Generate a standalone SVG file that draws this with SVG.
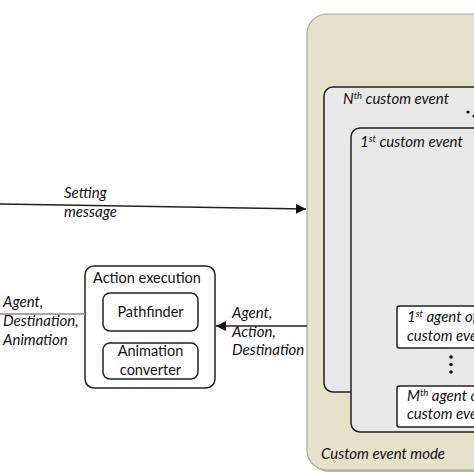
<svg xmlns="http://www.w3.org/2000/svg" width="474" height="474" viewBox="0 0 474 474">
<defs>
<marker id="ah" viewBox="0 0 10 10" refX="10" refY="5" markerWidth="10" markerHeight="10" markerUnits="userSpaceOnUse" orient="auto">
<path d="M0,0 L10,5 L0,10 z" fill="#111"/>
</marker>
<style>
text{font-family:Lato,"Liberation Sans",sans-serif;font-size:14.5px;fill:#111}
.i{font-style:italic;font-size:15px}
.sup{font-size:9.5px}
.box{fill:#fff;stroke:#222;stroke-width:1.5}
.ev{fill:#e8e8e8;stroke:#222;stroke-width:1.5}
.ln{stroke:#222;stroke-width:1.5;fill:none}
</style>
</defs>
<rect width="474" height="474" fill="#fff"/>

<g id="custom-event-mode">
<rect x="309" y="16" width="190" height="456" rx="20" fill="#b8b8b0"/>
<rect x="307" y="14" width="190" height="456" rx="20" fill="#e4e2c9" stroke="#a8a8a0" stroke-width="1.2"/>
<text class="i" x="321" y="459">Custom event mode</text>
</g>

<g id="nth-custom-event">
<rect class="ev" x="324" y="87" width="180" height="305" rx="9"/>
<text class="i" x="343" y="104">N<tspan class="sup" dy="-5">th</tspan><tspan dy="5"> custom event</tspan></text>
<circle cx="468" cy="112" r="1.6" fill="#111"/>
<circle cx="474" cy="116" r="1.6" fill="#111"/>
</g>

<g id="first-custom-event">
<rect class="ev" x="351" y="128" width="160" height="304" rx="9"/>
<text class="i" x="360" y="147">1<tspan class="sup" dy="-5">st</tspan><tspan dy="5"> custom event</tspan></text>
</g>

<g id="agent-1">
<rect class="box" x="397" y="306" width="100" height="42" rx="2"/>
<text class="i" x="407" y="322">1<tspan class="sup" dy="-5">st</tspan><tspan dy="5"> agent of</tspan></text>
<text class="i" x="407" y="341">custom event</text>
</g>

<g id="agent-dots">
<circle cx="451" cy="357" r="1.8" fill="#111"/>
<circle cx="451" cy="364.5" r="1.8" fill="#111"/>
<circle cx="451" cy="372" r="1.8" fill="#111"/>
</g>

<g id="agent-m">
<rect class="box" x="397" y="386" width="100" height="41" rx="2"/>
<text class="i" x="407" y="401">M<tspan class="sup" dy="-5">th</tspan><tspan dy="5"> agent of</tspan></text>
<text class="i" x="407" y="419">custom event</text>
</g>

<g id="action-execution">
<rect class="box" x="85" y="266" width="130" height="122" rx="9"/>
<text x="147" y="283" text-anchor="middle">Action execution</text>
</g>

<g id="pathfinder">
<rect class="box" x="103" y="293" width="95" height="38" rx="7"/>
<text x="150.5" y="317" text-anchor="middle">Pathfinder</text>
</g>

<g id="animation-converter">
<rect class="box" x="103" y="343" width="95" height="36" rx="7"/>
<text x="150.5" y="356" text-anchor="middle">Animation</text>
<text x="150.5" y="375" text-anchor="middle">converter</text>
</g>

<g id="connectors">
<line class="ln" x1="0" y1="204" x2="306" y2="209" marker-end="url(#ah)"/>
<line class="ln" x1="307" y1="326" x2="216" y2="326" marker-end="url(#ah)"/>
<line x1="0" y1="314" x2="85" y2="314" stroke="#888" stroke-width="1.5"/>
</g>

<g id="labels">
<text class="i" x="64" y="198">Setting</text>
<text class="i" x="64" y="217">message</text>
<text class="i" x="232" y="318">Agent,</text>
<text class="i" x="232" y="337">Action,</text>
<text class="i" x="232" y="355">Destination</text>
<text class="i" x="3" y="307">Agent,</text>
<text class="i" x="3" y="326">Destination,</text>
<text class="i" x="3" y="345">Animation</text>
</g>
</svg>
